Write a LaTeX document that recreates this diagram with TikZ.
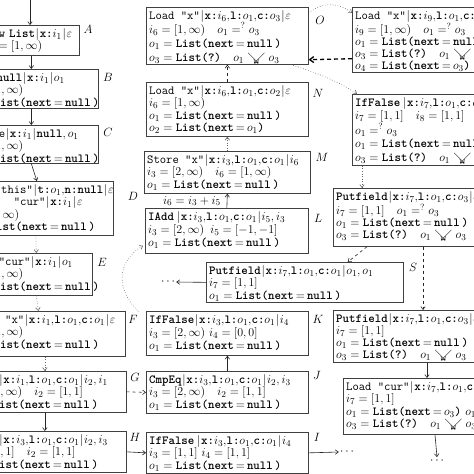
\documentclass[tikz,border=0pt]{standalone}
\usetikzlibrary{arrows.meta}
\newcommand{\ttb}[1]{\texttt{\bfseries #1}}
\newcommand{\ttn}[1]{\texttt{#1}}
\newcommand{\lv}[2]{\ttb{#1:}$#2$}
\newcommand{\vsep}{\kern0.7pt$|$\kern0.7pt}
\newcommand{\nlist}[1]{$o_{#1}=\ttb{List(next}\,{=}\,\ttb{null}\,\ttb{)}$}
\newcommand{\vjoin}{\mathrel{\searrow\!\!\!\swarrow}}
\tikzset{
  gb/.style={draw=black!75, line width=0.7pt, anchor=north west, inner sep=0pt},
  gt/.style={anchor=north west, align=left, inner sep=0pt},
  lbl/.style={font=\fontsize{13}{13}\selectfont, inner sep=0pt},
  arr/.style={-{Straight Barb[length=3pt,width=4.5pt]}, line width=0.6pt, black!85},
  dot/.style={arr, dotted, black!60},
  dsh/.style={arr, dashed},
  thickdash/.style={-{Straight Barb[length=4pt,width=6pt]}, line width=1.3pt, dash pattern=on 4pt off 3pt},
}
\newcommand{\gbox}[7]{%
  \node[gb, minimum width=#4pt, minimum height=#5pt] (#1) at (#2,#3) {};
  \node[gt, font=\fontsize{12.3}{#6}\selectfont] (#1t) at ([xshift=3pt,yshift=-3pt]#1.north west) {#7};}
\begin{document}
\begin{tikzpicture}[x=1pt, y=-1pt]
\useasboundingbox (0,0) rectangle (474,474);
\clip (0,0) rectangle (474,474);
\fill[white] (0,0) rectangle (474,474);
% ---------- left column
\gbox{A}{-17}{25}{96}{30}{12.5}{\ttn{New}~\ttb{List}\vsep\lv{x}{i_1}\vsep$\varepsilon$\\ $i_1=[1,\infty)$}
\gbox{B}{-36}{69}{134}{39}{12.5}{\ttn{Push}~\ttb{null}\vsep\lv{x}{i_1}\vsep$o_1$\\ $i_1=[1,\infty)$\\ \nlist{1}}
\gbox{C}{-36}{125}{134}{38}{12.5}{\ttn{Invoke}\vsep\lv{x}{i_1}\vsep\ttb{null}$,o_1$\\ $i_1=[1,\infty)$\\ \nlist{1}}
\gbox{D}{-40}{181}{153}{54}{12.5}{\ttn{Load "this"}\vsep\lv{t}{o_1},\lv{n}{\ttb{null}}\vsep$\varepsilon$\\ \ttn{Store~~~"cur"}\vsep\lv{x}{i_1}\vsep$\varepsilon$\\ $i_1=[1,\infty)$\\ \nlist{1}}
\gbox{E}{-36}{253}{128}{42}{12.5}{\ttn{Load "cur"}\vsep\lv{x}{i_1}\vsep$o_1$\\ $i_1=[1,\infty)$\\ \nlist{1}}
\gbox{F}{-36}{311}{161}{45}{12.5}{\ttn{Store "x"}\vsep\lv{x}{i_1},\lv{l}{o_1},\lv{c}{o_1}\vsep$\varepsilon$\\ $i_1=[1,\infty)$\\ \nlist{1}}
\gbox{G}{-37}{371}{163}{41}{12.5}{\ttb{CmpEq}\vsep\lv{x}{i_1},\lv{l}{o_1},\lv{c}{o_1}\vsep$i_2,i_1$\\ $i_1=[1,\infty)\quad i_2=[1,1]$\\ \nlist{1}}
\gbox{H}{-37}{431}{163}{41}{12.5}{\ttb{CmpEq}\vsep\lv{x}{i_3},\lv{l}{o_1},\lv{c}{o_1}\vsep$i_2,i_3$\\ $i_3=[1,1]\quad i_2=[1,1]$\\ \nlist{1}}
% ---------- middle column
\gbox{O}{146}{7}{162}{57}{14}{\ttn{Load "x"}\vsep\lv{x}{i_6},\lv{l}{o_1},\lv{c}{o_3}\vsep$\varepsilon$\\ $i_6=[1,\infty)\quad o_1=^{?}o_3$\\ \nlist{1}\\ $o_3=\ttb{List(?)}\quad o_1\vjoin o_3$}
\gbox{N}{146}{82}{162}{54}{12.5}{\ttn{Load "x"}\vsep\lv{x}{i_6},\lv{l}{o_1},\lv{c}{o_2}\vsep$\varepsilon$\\ $i_6=[1,\infty)$\\ \nlist{1}\\ $o_2=\ttb{List(next}\,{=}\,o_1\ttb{)}$}
\gbox{M}{144}{151}{166}{42}{12.5}{\ttn{Store "x"}\vsep\lv{x}{i_3},\lv{l}{o_1},\lv{c}{o_1}\vsep$i_6$\\ $i_3=[2,\infty)\quad i_6=[1,\infty)$\\ \nlist{1}}
\gbox{L}{145}{208}{163}{45}{13}{\ttb{IAdd}\,\vsep\lv{x}{i_3},\lv{l}{o_1},\lv{c}{o_1}\vsep$i_5,i_3$\\ $i_3=[2,\infty)\enspace i_5=[-1,-1]$\\ \nlist{1}}
\gbox{S}{206}{262}{197}{40}{12.5}{\ttb{Putfield}\vsep\lv{x}{i_7},\lv{l}{o_1},\lv{c}{o_1}\vsep$o_1,o_1$\\ $i_7=[1,1]$\\ \nlist{1}}
\gbox{K}{146}{311}{162}{44}{13}{\ttb{IfFalse}\vsep\lv{x}{i_3},\lv{l}{o_1},\lv{c}{o_1}\vsep$i_4$\\ $i_3=[2,\infty)\ i_4=[0,0]$\\ \nlist{1}}
\gbox{J}{146}{371}{162}{42}{12.5}{\ttb{CmpEq}\vsep\lv{x}{i_3},\lv{l}{o_1},\lv{c}{o_1}\vsep$i_2,i_3$\\ $i_3=[2,\infty)\quad i_2=[1,1]$\\ \nlist{1}}
\gbox{I}{146}{432}{162}{41}{12.5}{\ttb{IfFalse}\,\vsep\lv{x}{i_3},\lv{l}{o_1},\lv{c}{o_1}\vsep$i_4$\\ $i_3=[1,1]\ i_4=[1,1]$\\ \nlist{1}}
% ---------- right column
\gbox{P}{352}{7}{160}{65}{12}{\ttn{Load "x"}\vsep\lv{x}{i_9},\lv{l}{o_1},\lv{c}{o_4}\vsep$\varepsilon$\\ $i_9=[1,\infty)\quad o_1=^{?}o_3$\\ \nlist{1}\\ $o_3=\ttb{List(?)}\quad o_1\vjoin o_3$\\ $o_4=\ttb{List(next}\,{=}\,o_3\ttb{)}$}
\gbox{R}{352}{94}{160}{71}{13.5}{\ttb{IfFalse}\,\vsep\lv{x}{i_7},\lv{l}{o_1},\lv{c}{o_3}\vsep$i_8$\\ $i_7=[1,1]\quad i_8=[1,1]$\\ $o_1=^{?}o_3$\\ \nlist{1}\\ $o_3=\ttb{List(?)}\quad o_1\vjoin o_3$}
\gbox{T}{333}{188}{180}{58}{12}{\ttb{Putfield}\vsep\lv{x}{i_7},\lv{l}{o_1},\lv{c}{o_3}\vsep$o_1,o_3$\\ $i_7=[1,1]\quad o_1=^{?}o_3$\\ \nlist{1}\\ $o_3=\ttb{List(?)}\quad o_1\vjoin o_3$}
\gbox{U}{333}{310}{180}{52}{12}{\ttb{Putfield}\vsep\lv{x}{i_7},\lv{l}{o_1},\lv{c}{o_3}\vsep$o_1,o_3$\\ $i_7=[1,1]$\\ \nlist{1}\\ $o_3=\ttb{List(?)}\quad o_1\vjoin o_3$}
\gbox{V}{343}{378}{170}{56}{12.5}{\ttn{Load "cur"}\vsep\lv{x}{i_7},\lv{l}{o_1},\lv{c}{o_3}\vsep$\varepsilon$\\ $i_7=[1,1]$\\ $o_1=\ttb{List(next}\,{=}\,o_3\ttb{)}\ o_1!$\\ $o_3=\ttb{List(?)}\quad o_1\vjoin o_3$}
% ---------- labels
\node[lbl] (lA) at (88,29) {$A$};
\node[lbl] (lB) at (108,77) {$B$};
\node[lbl] (lC) at (108,132) {$C$};
\node[lbl] (lD) at (133,196) {$D$};
\node[lbl] (lE) at (102,262) {$E$};
\node[lbl] (lF) at (133,319) {$F$};
\node[lbl] (lG) at (135,377) {$G$};
\node[lbl] (lH) at (135,437) {$H$};
\node[lbl] (lO) at (320,20) {$O$};
\node[lbl] (lN) at (318,93) {$N$};
\node[lbl] (lM) at (322,157) {$M$};
\node[lbl] (lL) at (318,218) {$L$};
\node[lbl] (lK) at (318,319) {$K$};
\node[lbl] (lJ) at (317,375) {$J$};
\node[lbl] (lI) at (317,437) {$I$};
\node[lbl] (lS) at (413,267) {$S$};
\node[font=\fontsize{12.3}{12}\selectfont, inner sep=0pt] (lsum) at (192,201) {$i_6=i_3+i_5$};
% ---------- dots
\node[inner sep=1pt, font=\fontsize{12}{12}\selectfont] (Idots) at (347,452) {$\cdots$};
\node[inner sep=1pt, font=\fontsize{12}{12}\selectfont] (Sdots) at (168,282) {$\cdots$};
\node[inner sep=1pt, font=\fontsize{12}{12}\selectfont] (Vdots) at (437,461) {$\cdots$};
% ---------- connectors
\coordinate (in) at (30,0);
\draw[arr] (in) -- (A.north -| in);
\draw[arr] (A.south) -- (B.north);
\draw[arr] (B.south) -- (C.north);
\draw[arr] (C.south) -- (D.north);
\draw[dot] ([xshift=-1pt]D.south) -- ([xshift=8pt]E.north);
\draw[dot] ([xshift=8pt]E.south) -- ([xshift=-6.5pt]F.north);
\draw[dot] (F.south) -- (G.north);
\draw[arr] (G.south) -- (H.north);
\draw[dsh] (G.east) -- (J.west);
\draw[arr] (H.east) -- (I.west);
\draw[arr] (I.east) -- (Idots.west);
\draw[arr] (J.north) -- (K.south);
\draw[dot] ([xshift=-7pt,yshift=-1pt]K.north west) .. controls (116,290) and (116,262) .. ([xshift=-2pt,yshift=8pt]L.south west);
\draw[arr] (L.north) -- (M.south);
\draw[dot] (M.north) -- (N.south);
\draw[dsh] (N.north) -- (O.south);
\draw[dot] ([yshift=-6pt]O.north east) .. controls (322,2) and (338,2) .. ([yshift=-6pt]P.north west);
\draw[dot] ([xshift=-18pt]O.south east) .. controls (315,72) and (340,82) .. ([xshift=5pt]R.north west);
\draw[thickdash] ([yshift=14pt]P.south west) -- ([yshift=5pt]O.south east);
\draw[dot] ([xshift=10pt]R.south west) -- ([xshift=29pt]T.north west);
\draw[dsh] ([xshift=34pt]T.south west) -- ([xshift=-56pt]S.north east);
\draw[dsh] ([xshift=90pt]T.south west) -- ([xshift=90pt]U.north west);
\draw[arr] ([xshift=94pt]U.south west) -- ([xshift=84pt]V.north west);
\draw[arr] ([xshift=92pt]V.south west) -- (Vdots.north);
\draw[arr] (S.west) -- (Sdots.east);
\end{tikzpicture}
\end{document}
